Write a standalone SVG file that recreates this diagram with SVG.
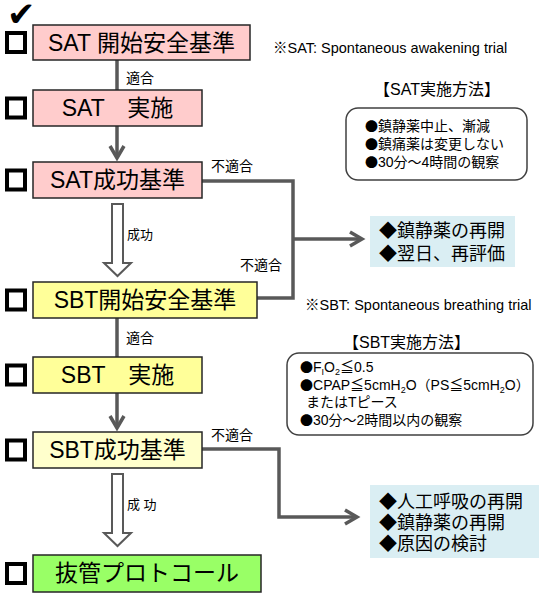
<svg xmlns="http://www.w3.org/2000/svg" width="546" height="603" viewBox="0 0 546 603">
<style>
  text { font-family: "Liberation Sans", "Noto Sans CJK JP", sans-serif; fill: #000; }
  .box { stroke: #262626; stroke-width: 1.5; }
  .pink { fill: #FFCCCC; }
  .yel { fill: #FFFF99; }
  .pale { fill: #FFFFCC; }
  .green { fill: #99FF66; }
  .blue { fill: #DAEEF3; }
  .chk { fill: none; stroke: #000; stroke-width: 4; }
  .main { font-size: 23px; text-anchor: middle; }
  .lbl { font-size: 14px; }
  .note { font-size: 14.5px; }
  .mtitle { font-size: 16px; }
  .mtext { font-size: 14px; }
  .bul { font-family: "Noto Sans CJK JP", sans-serif; font-size: 13px; }
  .btext { font-size: 18px; }
  .method { fill: #fff; stroke: #404040; stroke-width: 1.5; }
  .conn { fill: none; stroke: #595959; stroke-width: 3.5; stroke-linejoin: miter; }
  .hollow { fill: #fff; stroke: #595959; stroke-width: 2; stroke-linejoin: miter; }
</style>
<defs>
  <marker id="arr" markerUnits="userSpaceOnUse" markerWidth="20" markerHeight="20" refX="13" refY="8" orient="auto" overflow="visible">
    <path d="M1,1 L13,8 L1,15" fill="none" stroke="#595959" stroke-width="3.5"/>
  </marker>
</defs>

<text x="7" y="26" style="font-family:'DejaVu Sans',sans-serif;font-size:34px;font-style:italic">✔</text>

<g id="connectors">
  <path class="conn" d="M117,60 V90"/>
  <path class="conn" d="M117,126 V158" marker-end="url(#arr)"/>
  <path class="conn" d="M202,181 H293 V298 H257"/>
  <path class="conn" d="M293,239 H362" marker-end="url(#arr)"/>
  <path class="conn" d="M117,318 V357"/>
  <path class="conn" d="M117,393 V428" marker-end="url(#arr)"/>
  <path class="conn" d="M202,449 H279 V517 H357" marker-end="url(#arr)"/>
  <path class="hollow" d="M112,204 H123 V263 H131 L117.5,276 L104,263 H112 Z"/>
  <path class="hollow" d="M112,474 H123 V533 H131 L117.5,546 L104,533 H112 Z"/>
  <text class="lbl" x="126" y="83">適合</text>
  <text class="lbl" x="211" y="171">不適合</text>
  <text class="lbl" x="127" y="239" style="font-size:13px">成功</text>
  <text class="lbl" x="240" y="270">不適合</text>
  <text class="lbl" x="126" y="343">適合</text>
  <text class="lbl" x="211" y="440">不適合</text>
  <text class="lbl" x="127" y="509" style="font-size:13px" xml:space="preserve">成 功</text>
</g>

<g id="sat-start">
  <rect class="chk" x="7" y="33" width="18" height="19"/>
  <rect class="box pink" x="33" y="25" width="217" height="35"/>
  <text class="main" x="141.5" y="51">SAT 開始安全基準</text>
</g>
<g id="sat-do">
  <rect class="chk" x="7" y="98.5" width="18" height="19"/>
  <rect class="box pink" x="33" y="90" width="169" height="36"/>
  <text class="main" x="117.5" y="116">SAT　実施</text>
</g>
<g id="sat-success">
  <rect class="chk" x="7" y="170.5" width="18" height="19"/>
  <rect class="box pink" x="33" y="162" width="169" height="36"/>
  <text class="main" x="117.5" y="188">SAT成功基準</text>
</g>
<g id="sbt-start">
  <rect class="chk" x="7" y="290.5" width="18" height="19"/>
  <rect class="box yel" x="33" y="282" width="224" height="36"/>
  <text class="main" x="145" y="308">SBT開始安全基準</text>
</g>
<g id="sbt-do">
  <rect class="chk" x="7" y="365.5" width="18" height="19"/>
  <rect class="box yel" x="33" y="357" width="169" height="36"/>
  <text class="main" x="117.5" y="383">SBT　実施</text>
</g>
<g id="sbt-success">
  <rect class="chk" x="7" y="440.5" width="18" height="19"/>
  <rect class="box pale" x="33" y="432" width="169" height="36"/>
  <text class="main" x="117.5" y="458">SBT成功基準</text>
</g>
<g id="extubation">
  <rect class="chk" x="7" y="564" width="18" height="19"/>
  <rect class="box green" x="33" y="555" width="228" height="37"/>
  <text class="main" x="147" y="581">抜管プロトコール</text>
</g>

<g id="sat-note">
  <text class="note" x="273" y="53">※SAT: Spontaneous awakening trial</text>
</g>
<g id="sat-method">
  <text class="mtitle" x="374" y="95">【SAT実施方法】</text>
  <rect class="method" x="346" y="108" width="181" height="72" rx="12"/>
  <text class="mtext" x="365" y="131"><tspan class="bul">●</tspan>鎮静薬中止、漸減</text>
  <text class="mtext" x="365" y="149"><tspan class="bul">●</tspan>鎮痛薬は変更しない</text>
  <text class="mtext" x="365" y="167"><tspan class="bul">●</tspan>30分～4時間の観察</text>
</g>
<g id="sat-fail">
  <rect class="blue" x="370" y="216" width="145" height="51"/>
  <text class="btext" x="379" y="237">◆鎮静薬の再開</text>
  <text class="btext" x="379" y="260">◆翌日、再評価</text>
</g>
<g id="sbt-note">
  <text class="note" x="305" y="310">※SBT: Spontaneous breathing trial</text>
</g>
<g id="sbt-method">
  <text class="mtitle" x="343" y="348">【SBT実施方法】</text>
  <rect class="method" x="287" y="353" width="246" height="82" rx="12"/>
  <text class="mtext" x="300" y="372"><tspan class="bul">●</tspan>F<tspan font-size="9" dy="3">I</tspan><tspan dy="-3">O</tspan><tspan font-size="9" dy="3">2</tspan><tspan dy="-3">≦0.5</tspan></text>
  <text class="mtext" x="300" y="390"><tspan class="bul">●</tspan>CPAP≦5cmH<tspan font-size="9" dy="3">2</tspan><tspan dy="-3">O（PS≦5cmH</tspan><tspan font-size="9" dy="3">2</tspan><tspan dy="-3">O）</tspan></text>
  <text class="mtext" x="306" y="407">またはTピース</text>
  <text class="mtext" x="300" y="425"><tspan class="bul">●</tspan>30分～2時間以内の観察</text>
</g>
<g id="sbt-fail">
  <rect class="blue" x="370" y="485" width="169" height="73"/>
  <text class="btext" x="379" y="508">◆人工呼吸の再開</text>
  <text class="btext" x="379" y="529">◆鎮静薬の再開</text>
  <text class="btext" x="379" y="550">◆原因の検討</text>
</g>
</svg>
